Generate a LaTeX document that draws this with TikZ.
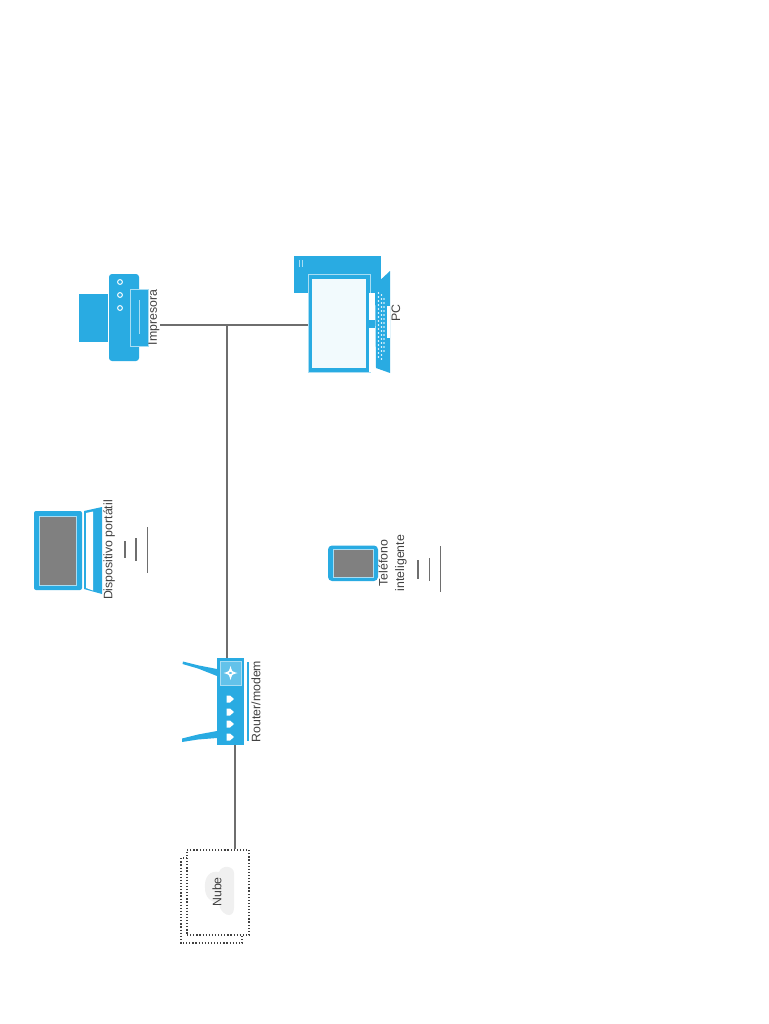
\documentclass[tikz,border=0pt]{standalone}
\usepackage{fontspec}
\setmainfont{Liberation Sans}
\usetikzlibrary{calc}
\definecolor{iconblue}{HTML}{29ABE2}
\definecolor{iconpale}{HTML}{A9DDF3}
\definecolor{wiregray}{HTML}{6E6E6E}
\definecolor{screengray}{HTML}{808080}
\definecolor{textgray}{HTML}{404040}
\tikzset{
	wire/.style={draw=wiregray,line width=1.5pt},
	wave/.style={draw=wiregray,line width=1.3pt},
	devlabel/.style={rotate=90,text=textgray,font=\fontsize{12.3}{15}\selectfont,align=center,inner sep=0pt},
	icon/.style={fill=iconblue,draw=none},
	box/.style={rectangle,inner sep=0pt,outer sep=0pt,fill=iconblue},
	dotbox/.style={draw=black!75,line width=1.2pt,dash pattern=on 1.2pt off 1.9pt}
}
\begin{document}
\begin{tikzpicture}[x=1pt,y=-1pt]
	\useasboundingbox (0,0) rectangle (768,1024);
	% printer
	\fill[icon] (79,294) rectangle (108,342);
	\fill[icon,rounded corners=3pt] (109,274) -- (139,274) -- (139,361) -- (109,361) -- cycle;
	\foreach \y in {282,295,308}
		\draw[white,line width=1pt] (120,\y) circle (2.4);
	\node[box,draw=iconpale,line width=0.8pt,minimum width=18pt,minimum height=57pt] (tray) at (139,317.5) {};
	\draw[iconpale,line width=1pt] (139,300) -- (139,334);
	\node[devlabel] (lblprn) at (154,317.5) {Impresora};
	% pc
	\fill[icon] (294,256) rectangle (381,293);
	\foreach \x in {299,302.5}
		\draw[iconpale,line width=1pt] (\x,260) -- (\x,267);
	\node[box,draw=iconpale,line width=0.8pt,minimum width=62pt,minimum height=98pt] (monitor) at (339,323) {};
	\fill[white] (369,293) rectangle (375,320);
	\fill[white] (369,328) rectangle (375,372);
	\fill[icon] (369,320) rectangle (375,328);
	\fill[iconblue!6!white] (312,279) rectangle (366,368);
	\fill[icon] (375,285) -- (390,271) -- (390,373) -- (376,368) -- cycle;
	\foreach \y in {293,297,...,357}
		\fill[white] (378.5,\y) circle (0.9) (381.5,\y+2) circle (0.9);
	\foreach \y in {299,303,...,351}
		\fill[white] (384,\y) circle (0.8);
	\fill[white] (387,306) rectangle (390,338);
	\node[devlabel] (lblpc) at (396,313) {PC};
	% laptop
	\fill[icon,rounded corners=2pt] (34,511) rectangle (82,590);
	\fill[screengray,draw=iconpale,line width=0.8pt] (39,516) rectangle (76,585);
	\fill[icon] (84,511) -- (102,507) -- (102,594) -- (84,589) -- cycle;
	\fill[white] (86,513) -- (93,511.5) -- (93,590.5) -- (86,588) -- cycle;
	\node[devlabel] (lbllap) at (109,550) {Dispositivo portátil};
	\draw[wave] (125,541) -- (125,558);
	\draw[wave] (136,538) -- (136,561);
	\draw[wave] (147.5,527) -- (147.5,573);
	% phone
	\fill[icon,rounded corners=4pt] (328,545.5) rectangle (378,581);
	\fill[screengray,draw=iconpale,line width=0.8pt] (333,549) rectangle (373,577);
	\node[devlabel] (lblphn) at (392.5,563) {Teléfono\\[1.5pt]inteligente};
	\draw[wave] (418,560) -- (418,579);
	\draw[wave] (429.5,558) -- (429.5,581);
	\draw[wave] (440.5,546) -- (440.5,592);
	% router
	\node[box,minimum width=27pt,minimum height=87pt] (router) at (230.5,701.5) {};
	\fill[icon] (217,669) -- (199,665.5) -- (183,661.5) -- (182.5,664) -- (198,668.5) -- (217,676) -- cycle;
	\fill[icon] (217,731) -- (198,734.5) -- (182,738.5) -- (182,742) -- (198,739.5) -- (217,738) -- cycle;
	\fill[iconpale!45!iconblue,draw=iconpale,line width=0.8pt] (220,661.5) rectangle (241,685);
	\foreach \a in {0,90,180,270}
		\draw[white,line width=1pt,-latex] ($(230.5,673)+(\a:2.5)$) -- ($(230.5,673)+(\a:7)$);
	\foreach \y in {699,712,724,737}
		\fill[white] (226.5,\y-3.5) -- (230,\y-3.5) -- (234,\y) -- (230,\y+3.5) -- (226.5,\y+3.5) -- cycle;
	\draw[icon,draw=iconblue,line width=1.5pt] (248,662) -- (248,741);
	\node[devlabel] (lblrtr) at (256,701.5) {Router/modem};
	% cloud
	\draw[dotbox] (187,858) -- (181,858) -- (181,943) -- (242,943) -- (242,935);
	\node[dotbox,rectangle,inner sep=0pt,minimum width=62pt,minimum height=85pt] (cloudbox) at (218,892.5) {};
	\fill[black!6] (234,873) .. controls (234,866) and (222,864) .. (219,872) .. controls (210,870) and (204,877) .. (205,888) .. controls (205,897) and (210,902) .. (219,903) .. controls (219,914) and (234,921) .. (234,908) -- cycle;
	\node[devlabel] (lblnube) at (217,892) {Nube};
	% connections
	\coordinate (junction) at (227,325);
	\draw[wire] ($(tray.east)+(12,7.5)$) -- (junction) -- (monitor.west |- junction);
	\draw[wire] (junction) -- (junction |- router.north);
	\coordinate (rtrport) at (235,745);
	\draw[wire] (rtrport) -- (rtrport |- cloudbox.north);
\end{tikzpicture}
\end{document}
